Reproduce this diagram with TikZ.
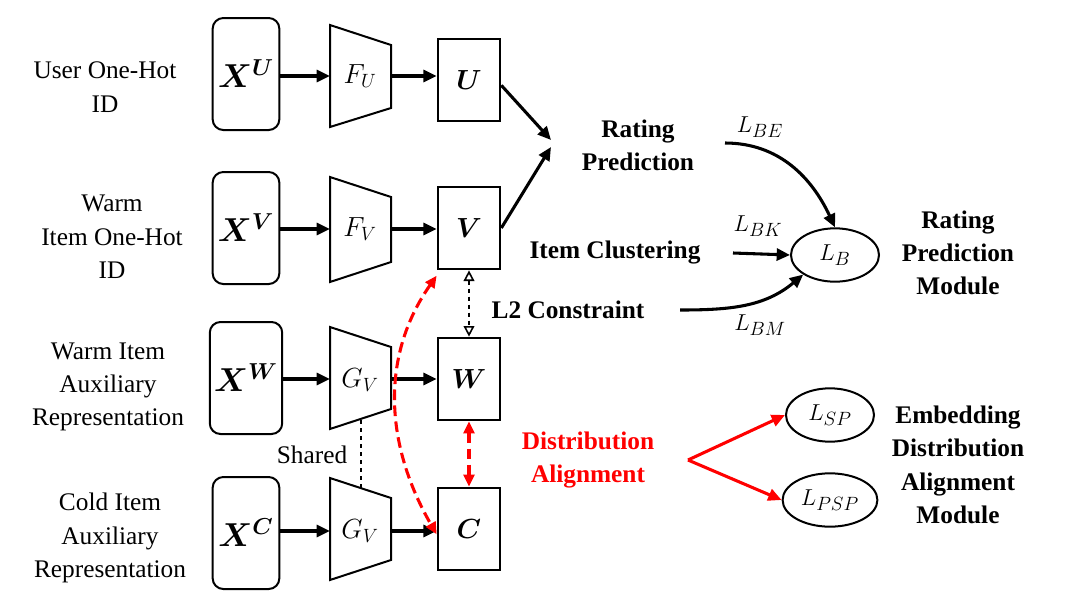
\documentclass[tikz,border=0pt]{standalone}
\usepackage{amsmath,bm}
\usepackage{fontspec}
\setmainfont{Liberation Serif}
\newfontfamily\tms{Liberation Serif}
\usetikzlibrary{arrows.meta,shapes.geometric}
\begin{document}
\begin{tikzpicture}[x=0.75pt,y=-0.75pt,
 lab/.style={align=center,font=\tms\fontsize{19}{25}\selectfont},
 bl/.style={align=center,font=\tms\fontsize{19}{25}\selectfont\bfseries},
 xb/.style={draw,line width=1.5pt,rounded corners=8pt,minimum width=50pt,minimum height=84pt,font=\fontsize{24}{28}\selectfont},
 sq/.style={draw,line width=1.5pt,minimum width=47pt,minimum height=62pt,font=\fontsize{22}{26}\selectfont},
 ar/.style={-{Triangle[length=10pt,width=9pt]},line width=2.3pt},
 rar/.style={ar,red},
 el/.style={draw,ellipse,line width=1.5pt,minimum width=66pt,minimum height=40pt,font=\fontsize{19}{22}\selectfont}]
\useasboundingbox (0,0) rectangle (1079,615);
\node[lab] at (105,87) {User One-Hot\\ID};
\node[lab] at (112,237) {Warm\\Item One-Hot\\ID};
\node[lab] at (108,387) {Warm Item\\Auxiliary\\Representation};
\node[lab] at (110,538) {Cold Item\\Auxiliary\\Representation};
\node[xb] (xu) at (246,74) {$\bm{X^U}$};
\node[xb] (xv) at (246,228) {$\bm{X^V}$};
\node[xb] (xw) at (246,378) {$\bm{X^W}$};
\node[xb] (xc) at (246,533) {$\bm{X^C}$};
\begin{scope}[line width=1.5pt]
\draw (330,25) -- (391,45) -- (391,108) -- (330,127) -- cycle;
\draw (330,177) -- (391,197) -- (391,262) -- (330,282) -- cycle;
\draw (330,327) -- (391,347) -- (391,409) -- (330,429) -- cycle;
\draw (330,478) -- (391,498) -- (391,560) -- (330,580) -- cycle;
\end{scope}
\node[font=\fontsize{20}{24}\selectfont] (fu) at (360,76) {$F_U$};
\node[font=\fontsize{20}{24}\selectfont] (fv) at (360,229) {$F_V$};
\node[font=\fontsize{20}{24}\selectfont] (gw) at (360,380) {$G_V$};
\node[font=\fontsize{20}{24}\selectfont] (gc) at (360,531) {$G_V$};
\coordinate (fuL) at (330,76); \coordinate (fuR) at (391,76);
\coordinate (fvL) at (330,229); \coordinate (fvR) at (391,229);
\coordinate (gwL) at (330,379); \coordinate (gwR) at (391,379);
\coordinate (gcL) at (330,531); \coordinate (gcR) at (391,531);
\node[sq] (u) at (469,80) {$\bm{U}$};
\node[sq] (v) at (469,228) {$\bm{V}$};
\node[sq] (w) at (469,379) {$\bm{W}$};
\node[sq] (c) at (469,529) {$\bm{C}$};
\draw[ar] (xu.east|-fuL) -- (fuL);
\draw[ar] (xv.east|-fvL) -- (fvL);
\draw[ar] (xw.east|-gwL) -- (gwL);
\draw[ar] (xc.east|-gcL) -- (gcL);
\draw[ar] (fuR) -- (u.west|-fuR);
\draw[ar] (fvR) -- (v.west|-fvR);
\draw[ar] (gwR) -- (w.west|-gwR);
\draw[ar] (gcR) -- (c.west|-gcR);
\coordinate (rp) at (551,140);
\coordinate (rp2) at (551,147);
\draw[ar] ([yshift=-4pt]u.east) -- (rp);
\draw[ar] (v.east) -- (rp2);
\node[bl] at (638,145) {Rating\\Prediction};
\node[el] (lb) at (835,255) {$L_B$};
\node[font=\fontsize{19}{22}\selectfont] at (760,127) {$L_{BE}$};
\coordinate (be) at (725,143);
\draw[ar] (be) to[out=0,in=115] (lb.north);
\node[bl] at (615,253) {Item Clustering};
\node[font=\fontsize{19}{22}\selectfont] at (758,226) {$L_{BK}$};
\coordinate (bk) at (733,253);
\draw[ar] (bk) -- (lb.west);
\node[bl] at (568,310) {L2 Constraint};
\coordinate (bm) at (680,310);
\draw[ar] (bm) to[out=0,in=-140] (lb.south west);
\node[font=\fontsize{19}{22}\selectfont] at (760,325) {$L_{BM}$};
\node[bl] at (958,253) {Rating\\Prediction\\Module};
\draw[{Triangle[length=8pt,width=8pt,open]}-{Triangle[length=8pt,width=8pt,open]},line width=1.2pt,dashed] (v.south) -- (w.north);
\draw[{Triangle[length=9pt,width=8pt]}-{Triangle[length=9pt,width=8pt]},line width=2.3pt,red,dash pattern=on 8pt off 4pt] ([yshift=-4pt]v.south west) to[out=235,in=120] ([yshift=-4pt]c.west);
\draw[{Triangle[length=9pt,width=8pt]}-{Triangle[length=9pt,width=8pt]},line width=2.3pt,red,dash pattern=on 8pt off 4pt] (w.south) -- (c.north);
\node[bl,text=red] at (588,460) {Distribution\\Alignment};
\node[el] (lsp) at (830,415) {$L_{SP}$};
\node[el] (lpsp) at (830,500) {$L_{PSP}$};
\coordinate (da) at (688,460);
\draw[rar] (da) -- (lsp.west);
\draw[rar] (da) -- (lpsp.west);
\node[bl] at (958,465) {Embedding\\Distribution\\Alignment\\Module};
\node[lab] at (312,455) {Shared};
\coordinate (s1) at (361,420); \coordinate (s2) at (361,488);
\draw[dashed,line width=1pt] (s1) -- (s2);
\end{tikzpicture}
\end{document}
